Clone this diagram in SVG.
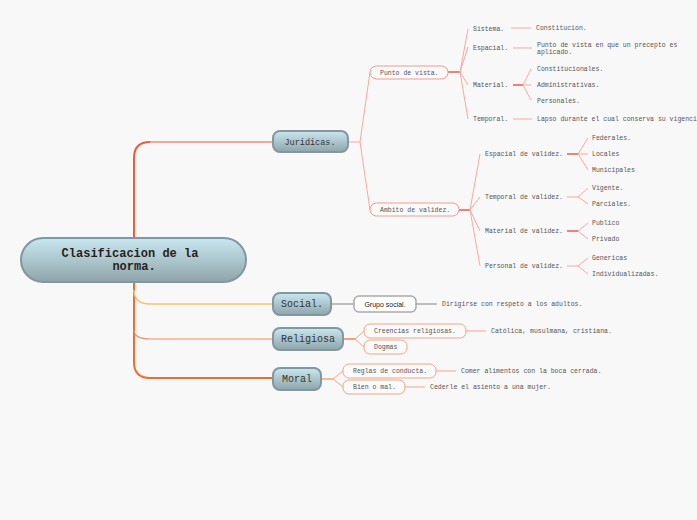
<svg xmlns="http://www.w3.org/2000/svg" width="697" height="520" viewBox="0 0 697 520">
<defs>
<linearGradient id="g" x1="0" y1="0" x2="0" y2="1"><stop offset="0" stop-color="#c9e7f0"/><stop offset="1" stop-color="#8ea5aa"/></linearGradient>
<style>
.m{fill:url(#g);stroke:#8298a1;stroke-width:2}
.t{font-family:"Liberation Mono","Courier New",monospace;font-size:6.5px;fill:#555}
.mt{font-family:"Liberation Mono","Courier New",monospace;font-size:10px;fill:#333;text-anchor:middle}
.big{font-size:12px;font-weight:bold;fill:#2a1f1a}
.pb{fill:#fafafa;stroke:#f29a90;stroke-width:1}
.ob{fill:#fafafa;stroke:#f4a583;stroke-width:1}
.p{stroke:#f7a9a1;fill:none;stroke-width:1}
.pd{stroke:#f0584a;fill:none;stroke-width:1.5}
</style>
</defs>
<rect width="697" height="520" fill="#f8f8f8"/>
<g id="connectors">
<path d="M134,238 V158 Q134,142 150,142 H273" fill="none" stroke="#f25a3c" stroke-width="2"/>
<path d="M150,142 H273" stroke="#f6c1bc" stroke-width="1.5"/>
<path d="M134,282 V362 Q134,378 150,378 H273" fill="none" stroke="#f26a2e" stroke-width="2"/>
<path d="M134,290 Q134,304 150,304 H273" fill="none" stroke="#f7c46a" stroke-width="1.5"/>
<path d="M134,330 Q134,339 150,339 H273" fill="none" stroke="#f58a5a" stroke-width="1.2"/>
<path d="M348,142 H360 L370,72 M360,142 L370,210" class="p"/>
<path d="M448,72 H460" class="pd"/>
<path d="M460,72 L468,29 M460,72 L468,47 M460,72 L468,85 M460,72 L468,119" class="p"/>
<path d="M511,28 H531 M513,48 H532 M513,119 H532" class="p"/>
<path d="M513,85 H523" class="pd"/>
<path d="M523,85 L531,69 M523,85 H531 M523,85 L531,100" class="p"/>
<path d="M459,210 H470" class="pd"/>
<path d="M470,210 L480,154 M470,210 L480,197 M470,210 L480,231 M470,210 L480,266" class="p"/>
<path d="M567,154 H578 M567,231 H578" class="pd"/>
<path d="M567,197 H578 M567,266 H578" class="p" stroke-width="2"/>
<path d="M578,154 L588,138 M578,154 H588 M578,154 L588,170 M578,197 L588,188 M578,197 L588,204 M578,231 L588,223 M578,231 L588,239 M578,266 L588,258 M578,266 L588,274" class="p"/>
<path d="M331,304 H354 M416,304 H437" stroke="#aaa" stroke-width="1.5"/>
<path d="M343,339 H355" stroke="#f26a2e" stroke-width="1.2"/>
<path d="M355,339 L364,331 M355,339 L364,347 M466,331 H486" stroke="#f4a583" fill="none"/>
<path d="M321,379 H333" stroke="#f58a5a" stroke-width="1.2"/>
<path d="M333,379 L343,371 M333,379 L343,387 M436,371 H456 M405,387 H425" stroke="#f4a583" fill="none"/>
</g>
<g id="central"><rect class="m" x="21" y="238" width="225" height="44" rx="22"/><text class="mt big" x="130" y="257">Clasificacion de la</text><text class="mt big" x="134" y="270">norma.</text></g>
<g id="juridicas"><rect class="m" x="273" y="131" width="75" height="21" rx="7"/><text class="mt" x="310" y="145" style="font-size:8.5px">Juridicas.</text></g>
<g id="social"><rect class="m" x="273" y="293" width="58" height="22" rx="7"/><text class="mt" x="302" y="307">Social.</text></g>
<g id="religiosa"><rect class="m" x="273" y="328" width="70" height="22" rx="7"/><text class="mt" x="308" y="342">Religiosa</text></g>
<g id="moral"><rect class="m" x="273" y="368" width="48" height="22" rx="7"/><text class="mt" x="297" y="382">Moral</text></g>
<g id="punto"><rect class="pb" x="370" y="66" width="78" height="13" rx="6.5"/><text class="t" x="380" y="75">Punto de vista.</text></g>
<g id="ambito"><rect class="pb" x="370" y="203" width="89" height="13" rx="6.5"/><text class="t" x="380" y="212">Ambito de validez.</text></g>
<g id="pv-leaves">
<text class="t" x="473" y="31">Sistema.</text><text class="t" x="536" y="30">Constitucion.</text>
<text class="t" x="473" y="50">Espacial.</text><text class="t" x="537" y="47">Punto de vista en que un precepto es</text><text class="t" x="537" y="54">aplicado.</text>
<text class="t" x="473" y="87">Material.</text><text class="t" x="537" y="71">Constitucionales.</text><text class="t" x="537" y="87">Administrativas.</text><text class="t" x="537" y="103">Personales.</text>
<text class="t" x="473" y="121">Temporal.</text><text class="t" x="537" y="121">Lapso durante el cual conserva su vigencia</text>
</g>
<g id="av-leaves">
<text class="t" x="485" y="156">Espacial de validez.</text><text class="t" x="592" y="140">Federales.</text><text class="t" x="592" y="156">Locales</text><text class="t" x="592" y="172">Municipales</text>
<text class="t" x="485" y="199">Temporal de validez.</text><text class="t" x="592" y="190">Vigente.</text><text class="t" x="592" y="206">Parciales.</text>
<text class="t" x="485" y="233">Material de validez.</text><text class="t" x="592" y="225">Publico</text><text class="t" x="592" y="241">Privado</text>
<text class="t" x="485" y="268">Personal de validez.</text><text class="t" x="592" y="260">Genericas</text><text class="t" x="592" y="276">Individualizadas.</text>
</g>
<g id="grupo"><rect x="354" y="296" width="62" height="16" rx="5" fill="#fff" stroke="#aaa" stroke-width="1.5"/><text x="385" y="307" text-anchor="middle" font-family="Liberation Sans,sans-serif" font-size="7" fill="#222">Grupo social.</text><text class="t" x="442" y="306">Dirigirse con respeto a los adultos.</text></g>
<g id="creencias"><rect class="ob" x="364" y="324" width="102" height="14" rx="6"/><text class="t" x="374" y="333">Creencias religiosas.</text><text class="t" x="491" y="333">Católica, musulmana, cristiana.</text></g>
<g id="dogmas"><rect class="ob" x="364" y="340" width="43" height="14" rx="6"/><text class="t" x="374" y="349">Dogmas</text></g>
<g id="reglas"><rect class="ob" x="343" y="364" width="93" height="14" rx="6"/><text class="t" x="353" y="373">Reglas de conducta.</text><text class="t" x="461" y="373">Comer alimentos con la boca cerrada.</text></g>
<g id="bien"><rect class="ob" x="343" y="380" width="62" height="14" rx="6"/><text class="t" x="353" y="389">Bien o mal.</text><text class="t" x="430" y="389">Cederle el asiento a una mujer.</text></g>
</svg>
